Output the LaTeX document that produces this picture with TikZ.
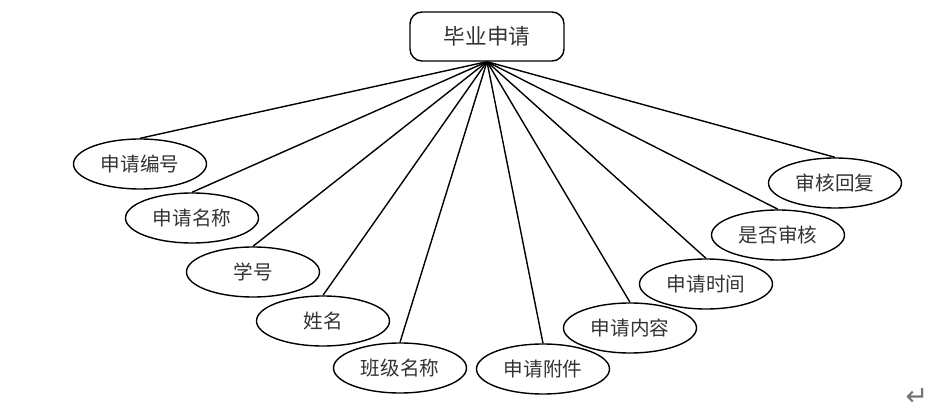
\documentclass[tikz,border=0pt]{standalone}
\usepackage{fontspec}
\setmainfont{Liberation Sans}
\newfontfamily\cjk{Noto Sans CJK SC}
\newfontfamily\symfont{DejaVu Sans}
\tikzset{
  attr/.style={draw,ellipse,line width=1.4pt,minimum width=133pt,minimum height=50pt,inner sep=0pt,font=\cjk\fontsize{19.6}{21}\selectfont,text=black!80},
  title/.style={draw,rounded corners=12pt,line width=1.4pt,minimum width=154pt,minimum height=49pt,inner sep=0pt,font=\cjk\fontsize{21.6}{24}\selectfont,text=black!80},
}
\usetikzlibrary{shapes.geometric}
\begin{document}
\begin{tikzpicture}[x=1pt,y=-1pt]
        \useasboundingbox (0,0) rectangle (938,414);
        \node[title] (apply) at (487,36.5) {毕业申请};
        \foreach \x/\y/\name [count=\i] in {140/164/申请编号,192/218/申请名称,253/272/学号,323/321/姓名,400/368/班级名称,543/369/申请附件,630/328/申请内容,706/284/申请时间,778/235/是否审核,835/183/审核回复} {
             \node[attr] (attr\i) at (\x,\y) {\name};
             \draw[line width=1.4pt] (apply.south) -- (attr\i.north);
        }
        \node[text=black!55,font=\symfont\fontsize{27}{27}\selectfont] (ret) at (917,397) {↵};
\end{tikzpicture}
\end{document}
